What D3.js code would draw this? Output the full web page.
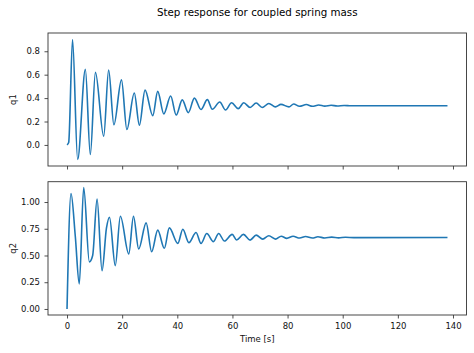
<!DOCTYPE html>
<html><head><meta charset="utf-8">
<script src="https://cdn.jsdelivr.net/npm/d3@7"></script>
<style>html,body{margin:0;padding:0;background:#fff;} svg{display:block;font-family:"DejaVu Sans",sans-serif;}</style>
</head><body>
<svg id="chart" width="474" height="353"></svg>
<script>
const title = "Step response for coupled spring mass";
const xLabel = "Time [s]";
const xTicks = [0, 20, 40, 60, 80, 100, 120, 140];
const q1Ticks = [0.0, 0.2, 0.4, 0.6, 0.8];
const q2Ticks = [0.00, 0.25, 0.50, 0.75, 1.00];

const q1Time = [0, 0.6, 2.0, 3.85, 6.65, 8.45, 10.3, 13.3, 15.1, 17.0, 19.75, 21.7, 24.4, 26.25, 28.3, 31.1, 32.9, 35.1, 37.6, 39.6, 41.8, 44.0, 46.2, 48.6, 50.9, 52.7, 55.4, 57.5, 59.7, 62.1, 64.1, 66.4, 68.6, 70.8, 73.2, 75.6, 77.6, 80.5, 82.2, 84.3, 86.8, 89.0, 91.3, 93.5, 95.8, 98.0, 100.5, 103.0, 138];
const q1Vals = [0, 0.02, 0.90, -0.125, 0.645, -0.082, 0.62, 0.074, 0.64, 0.172, 0.556, 0.132, 0.443, 0.168, 0.468, 0.25, 0.457, 0.265, 0.418, 0.255, 0.385, 0.276, 0.40, 0.302, 0.387, 0.305, 0.367, 0.298, 0.36, 0.31, 0.36, 0.32, 0.358, 0.32, 0.354, 0.325, 0.346, 0.325, 0.349, 0.33, 0.345, 0.33, 0.341, 0.331, 0.339, 0.332, 0.337, 0.334, 0.335];

const q2Time = [0, 1.45, 3.0, 4.45, 6.05, 8.1, 9.3, 10.9, 12.7, 14.3, 15.4, 17.5, 19.35, 22.4, 24.1, 26.0, 28.7, 30.7, 32.9, 35.3, 37.1, 40.2, 42.0, 44.2, 46.8, 48.6, 50.7, 53.1, 55.0, 57.1, 59.9, 61.5, 64.0, 66.4, 68.6, 71.0, 73.2, 75.6, 77.7, 79.7, 82.0, 84.4, 86.5, 89.0, 91.0, 93.5, 96.0, 98.5, 101.0, 104.0, 138];
const q2Vals = [0, 1.08, 0.68, 0.235, 1.135, 0.44, 0.5, 1.027, 0.357, 0.755, 0.858, 0.405, 0.867, 0.515, 0.867, 0.56, 0.805, 0.535, 0.737, 0.567, 0.758, 0.613, 0.746, 0.62, 0.715, 0.613, 0.706, 0.63, 0.706, 0.635, 0.697, 0.645, 0.697, 0.644, 0.69, 0.653, 0.684, 0.653, 0.68, 0.66, 0.68, 0.663, 0.677, 0.663, 0.675, 0.664, 0.672, 0.665, 0.670, 0.667, 0.668];

const svg = d3.select("#chart");
const L = 48, R = 466.5;
const panels = [
  {top: 33, bottom: 166, domain: [-0.18, 0.956], ticks: q1Ticks, fmt: d3.format(".1f"), label: "q1", t: q1Time, v: q1Vals, xLabels: false},
  {top: 181.7, bottom: 315, domain: [-0.0565, 1.19], ticks: q2Ticks, fmt: d3.format(".2f"), label: "q2", t: q2Time, v: q2Vals, xLabels: true}
];
const x = d3.scaleLinear().domain([-6.9, 144.9]).range([L, R]);
const fs = 8.5;

svg.append("text").attr("x", (L + R) / 2).attr("y", 15.5).attr("text-anchor", "middle")
  .attr("font-size", 10.3).attr("fill", "#000").text(title);

panels.forEach(p => {
  const y = d3.scaleLinear().domain(p.domain).range([p.bottom, p.top]);
  const g = svg.append("g");
  const line = d3.line().x((d, i) => x(p.t[i])).y(d => y(d)).curve(d3.curveMonotoneX);
  g.append("path").datum(p.v).attr("d", line).attr("fill", "none")
    .attr("stroke", "#1f77b4").attr("stroke-width", 1.6).attr("stroke-linejoin", "round");

  const xa = g.append("g").attr("transform", `translate(0,${p.bottom})`)
    .call(d3.axisBottom(x).tickValues(xTicks).tickSize(3.5).tickPadding(4).tickFormat(p.xLabels ? d3.format("d") : () => ""));
  const ya = g.append("g").attr("transform", `translate(${L},0)`)
    .call(d3.axisLeft(y).tickValues(p.ticks).tickSize(3.5).tickPadding(4.5).tickFormat(p.fmt));
  [xa, ya].forEach(a => {
    a.select(".domain").remove();
    a.selectAll("line").attr("stroke", "#222").attr("stroke-width", 0.8);
    a.selectAll("text").attr("font-size", fs).attr("fill", "#111").attr("font-family", "DejaVu Sans");
  });
  g.append("rect").attr("x", L).attr("y", p.top).attr("width", R - L).attr("height", p.bottom - p.top)
    .attr("fill", "none").attr("stroke", "#333").attr("stroke-width", 0.9);
  g.append("text").attr("transform", `translate(13.5,${(p.top + p.bottom) / 2}) rotate(-90)`)
    .attr("text-anchor", "middle").attr("dy", "0.35em").attr("font-size", fs).attr("fill", "#111").text(p.label);
});

svg.append("text").attr("x", (L + R) / 2).attr("y", 342).attr("text-anchor", "middle")
  .attr("font-size", fs).attr("fill", "#111").text(xLabel);
</script>
</body></html>
